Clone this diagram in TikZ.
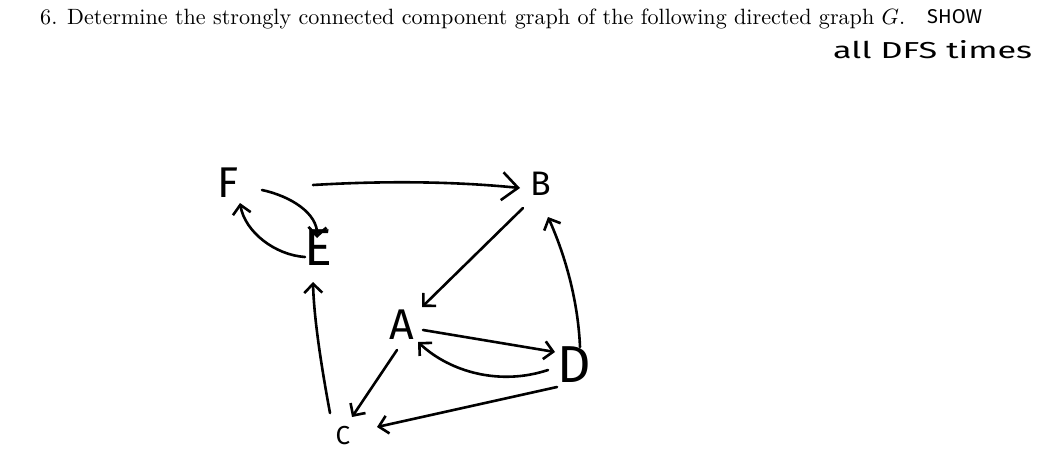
\documentclass[tikz,border=0pt]{standalone}
\usepackage{fontspec}
\usepackage{graphicx}
\usetikzlibrary{arrows.meta}
\newfontfamily\handfont{Fira Sans}
\tikzset{
  hand/.style={line width=2.6pt, line cap=round, line join=round,
    -{Straight Barb[length=9pt,width=18pt,line width=2.6pt]}},
  bighand/.style={line width=2.6pt, line cap=round, line join=round,
    -{Straight Barb[length=16pt,width=28pt,line width=2.6pt]}},
  vlabel/.style={inner sep=0pt, font=\handfont},
}
\begin{document}
\begin{tikzpicture}[x=1pt,y=-1pt]
\useasboundingbox (0,0) rectangle (1050,461);
% title and notes
\node[anchor=base west, inner sep=0pt] (title) at (40,24)
  {\resizebox{865pt}{!}{6. Determine the strongly connected component graph of the following directed graph $G$.}};
\node[anchor=south west, inner sep=0pt, font=\handfont] (show) at (927,24)
  {\resizebox{55pt}{14pt}{SHOW}};
\node[anchor=south west, inner sep=0pt, font=\handfont] (times) at (833,59)
  {\resizebox{199pt}{18pt}{all DFS times}};
% vertices
\node[vlabel, font=\handfont\fontsize{43}{43}\selectfont] (F) at (228,183) {F};
\node[vlabel, font=\handfont\fontsize{34}{34}\selectfont] (B) at (541,184) {B};
\node[vlabel, font=\handfont\fontsize{52}{52}\selectfont] (E) at (318,248) {E};
\node[vlabel, font=\handfont\fontsize{43}{43}\selectfont] (A) at (402,325) {A};
\node[vlabel, font=\handfont\fontsize{52}{52}\selectfont] (D) at (574,365) {D};
\node[vlabel, font=\handfont\fontsize{26}{26}\selectfont] (C) at (343,436) {C};
% edges
\draw[bighand] ([shift={(85,2)}]F.center) .. controls (380,181) and (450,181) .. ([shift={(-21,4)}]B.center);
\draw[hand] ([shift={(-18,24)}]B.center) -- ([shift={(20,-18)}]A.center);
\draw[hand] ([shift={(21,5)}]A.center) -- ([shift={(-19,-13)}]D.center);
\draw[hand] ([shift={(-26,5)}]D.center) .. controls (500,386) and (450,372) .. ([shift={(16,17)}]A.center);
\draw[hand] ([shift={(6,-18)}]D.center) .. controls (578,300) and (565,255) .. ([shift={(7,33)}]B.center);
\draw[hand] ([shift={(-5,25)}]A.center) -- ([shift={(9,-19)}]C.center);
\draw[hand] ([shift={(-17,22)}]D.center) -- ([shift={(34,-9)}]C.center);
\draw[hand] ([shift={(-13,-23)}]C.center) .. controls (322,370) and (314,320) .. ([shift={(-5,34)}]E.center);
\draw[hand] ([shift={(34,7)}]F.center) .. controls (290,196) and (318,213) .. ([shift={(-1,-10)}]E.center);
\draw[hand] ([shift={(-13,9)}]E.center) .. controls (275,255) and (245,232) .. ([shift={(12,20)}]F.center);
\end{tikzpicture}
\end{document}
